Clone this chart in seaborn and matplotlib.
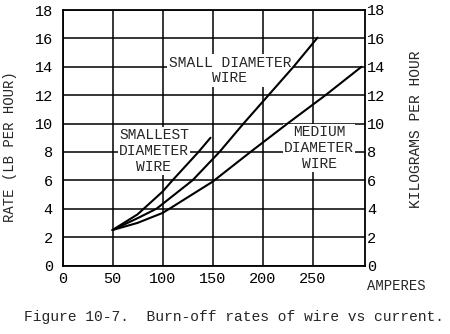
import matplotlib
matplotlib.use("Agg")
import matplotlib.pyplot as plt
import seaborn as sns
import pandas as pd

# ---- data ----
smallest_x = [50, 75, 100, 110, 136, 148]
smallest_y = [2.5, 3.6, 5.2, 6.0, 8.0, 9.0]
small_x = [50, 75, 94, 100, 130, 157, 181, 206, 231, 255]
small_y = [2.5, 3.33, 4.0, 4.33, 6.0, 8.0, 10.0, 12.0, 14.0, 16.05]
medium_x = [50, 75, 100, 107, 150, 188, 225, 263, 299]
medium_y = [2.5, 3.0, 3.7, 4.0, 5.9, 8.0, 10.0, 12.0, 14.0]
x_ticks = [0, 50, 100, 150, 200, 250]
y_ticks = [0, 2, 4, 6, 8, 10, 12, 14, 16, 18]

df = pd.concat([
    pd.DataFrame({"amps": smallest_x, "rate": smallest_y, "wire": "smallest"}),
    pd.DataFrame({"amps": small_x, "rate": small_y, "wire": "small"}),
    pd.DataFrame({"amps": medium_x, "rate": medium_y, "wire": "medium"}),
], ignore_index=True)

sns.set_style("white")
FONT = ["Liberation Mono", "DejaVu Sans Mono"]
plt.rcParams["font.family"] = FONT

W, H = 450, 334
fig = plt.figure(figsize=(W / 100, H / 100), dpi=100)
ax = fig.add_axes([62.5 / W, 1 - 265.5 / H, 302 / W, 255.5 / H])

sns.lineplot(data=df, x="amps", y="rate", hue="wire",
             palette=["black", "black", "black"], legend=False,
             linewidth=1.5, ax=ax, zorder=3, sort=True, estimator=None)

ax.set_xlim(0, 302)
ax.set_ylim(0, 18)
ax.set_xticks(x_ticks)
ax.set_yticks(y_ticks)
ax.set_xticklabels([str(v) for v in x_ticks], fontsize=11)
ax.set_yticklabels([str(v) for v in y_ticks], fontsize=11)
ax.tick_params(axis="x", length=0, pad=5, colors="black")
ax.tick_params(axis="y", length=0, pad=7, colors="black")
ax.set_xlabel("")
ax.set_ylabel("")
ax.grid(True, color="black", linewidth=1.1, zorder=1)
ax.set_axisbelow(True)
for s in ax.spines.values():
    s.set_visible(True)
    s.set_color("black")
    s.set_linewidth(1.3)

ax2 = ax.twinx()
ax2.set_ylim(0, 18)
ax2.set_yticks(y_ticks)
ax2.set_yticklabels([str(v) for v in y_ticks], fontsize=11)
ax2.tick_params(axis="y", length=0, pad=2, colors="black")
for s in ax2.spines.values():
    s.set_visible(False)

bbox = dict(facecolor="white", edgecolor="none", pad=1.0)
ax.text(167.5, 13.74, "SMALL DIAMETER\nWIRE", ha="center", va="center",
        fontsize=10.5, linespacing=1.15, bbox=bbox, zorder=2.5)
ax.text(91.5, 8.07, "SMALLEST\nDIAMETER\nWIRE", ha="center", va="center",
        fontsize=10.5, linespacing=1.15, bbox=bbox, zorder=2.5)
ax.text(256.5, 8.28, "MEDIUM\nDIAMETER\nWIRE", ha="center", va="center",
        fontsize=10.5, linespacing=1.15, bbox=bbox, zorder=2.5)

fig.text(10 / W, 1 - 146.5 / H, "RATE (LB PER HOUR)", rotation=90,
         ha="center", va="center", fontsize=10)
fig.text(416 / W, 1 - 129 / H, "KILOGRAMS PER HOUR", rotation=90,
         ha="center", va="center", fontsize=10.5)
fig.text(396.7 / W, 1 - 286 / H, "AMPERES", ha="center", va="center",
         fontsize=10)
fig.text(234 / W, 1 - 316.7 / H,
         "Figure 10-7.  Burn-off rates of wire vs current.",
         ha="center", va="center", fontsize=10.5)

fig.savefig("out.png", dpi=100, facecolor="white")
